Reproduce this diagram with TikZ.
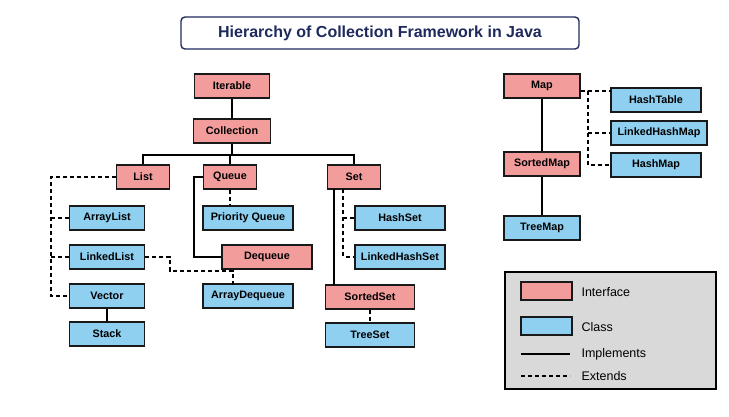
\documentclass[tikz,border=0pt]{standalone}
\usepackage{fontspec}
\setmainfont{Liberation Sans}
\usetikzlibrary{positioning}
\definecolor{ifacered}{HTML}{F29C9C}
\definecolor{classblue}{HTML}{8FCFF0}
\definecolor{titleblue}{HTML}{1F2A5C}

\begin{document}
\begin{tikzpicture}[
		x=1pt, y=-1pt,
		every node/.style={font=\bfseries\fontsize{10.8}{12}\selectfont},
		iface/.style={rectangle, draw=black!90, line width=1.3pt, fill=ifacered, minimum height=24pt, inner sep=1pt},
		cls/.style={rectangle, draw=black!90, line width=1.3pt, fill=classblue, minimum height=24pt, inner sep=1pt},
		impl/.style={line width=1.2pt},
		ext/.style={line width=1.2pt, dash pattern=on 4pt off 3pt}
	]
	\useasboundingbox (0,0) rectangle (729,417);

	% Title
	\node[draw=titleblue, line width=1.4pt, rounded corners=4pt, text=titleblue, minimum width=398pt, minimum height=32pt,
		font=\bfseries\fontsize{16}{18}\selectfont] (title) at (380,33) {Hierarchy of Collection Framework in Java};

	% Collection side
	\node[iface, minimum width=75pt] (iterable) at (232,86) {Iterable};
	\node[iface, minimum width=77pt] (collection) at (232,131) {Collection};
	\node[iface, minimum width=53pt] (list) at (143,177) {List};
	\node[iface, minimum width=53pt] (queue) at (230,177) {Queue};
	\node[iface, minimum width=53pt] (set) at (354,177) {Set};
	\node[cls, minimum width=75pt] (arraylist) at (107,218) {ArrayList};
	\node[cls, minimum width=75pt] (linkedlist) at (107,257) {LinkedList};
	\node[cls, minimum width=75pt] (vector) at (107,296) {Vector};
	\node[cls, minimum width=75pt] (stack) at (107,334) {Stack};
	\node[cls, minimum width=90pt] (pqueue) at (248,218) {Priority Queue};
	\node[iface, minimum width=90pt] (dequeue) at (267,257) {Dequeue};
	\node[cls, minimum width=90pt] (arraydequeue) at (248,296) {ArrayDequeue};
	\node[cls, minimum width=90pt] (hashset) at (400,218) {HashSet};
	\node[cls, minimum width=90pt] (linkedhashset) at (400,257) {LinkedHashSet};
	\node[iface, minimum width=89pt] (sortedset) at (370,297) {SortedSet};
	\node[cls, minimum width=89pt] (treeset) at (370,335) {TreeSet};

	\coordinate (bus) at (232,155);
	\coordinate (listrail) at (51,218);
	\coordinate (listmid) at (51,257);
	\coordinate (queuerail) at (194,257);
	\coordinate (llbend) at (170,271);
	\coordinate (adqtop) at (233,284.5);
	\coordinate (settop) at (334,189.5);
	\coordinate (sstop) at (334,284.5);
	\coordinate (setrail) at (343,189.5);
	\coordinate (hsrail) at (343,218);

	\draw[impl] (iterable) -- (collection);
	\draw[impl] (collection.south) -- (bus);
	\draw[impl] (list.north) |- (bus) -| (set.north);
	\draw[impl] (queue.north) -- (queue.north |- bus);
	\draw[ext] (list.west) -| (listmid) |- (vector.west);
	\draw[ext] (listrail) -- (arraylist.west);
	\draw[ext] (listmid) -- (linkedlist.west);
	\draw[impl] (vector) -- (stack);
	\draw[ext] (queue) -- (queue |- pqueue.north);
	\draw[impl] (queue.west) -| (queuerail) -- (dequeue.west);
	\draw[ext] (linkedlist.east) -| (llbend) -| (adqtop);
	\draw[impl] (settop) -- (sstop);
	\draw[ext] (setrail) |- (linkedhashset.west);
	\draw[ext] (hsrail) -- (hashset.west);
	\draw[ext] (sortedset) -- (treeset);

	% Map side
	\node[iface, minimum width=76pt] (map) at (542,86) {Map};
	\node[iface, minimum width=76pt] (sortedmap) at (542,164) {SortedMap};
	\node[cls, minimum width=76pt] (treemap) at (542,228) {TreeMap};
	\node[cls, minimum width=90pt] (hashtable) at (656,100) {HashTable};
	\node[cls, minimum width=96pt] (linkedhashmap) at (659,133) {LinkedHashMap};
	\node[cls, minimum width=90pt] (hashmap) at (656,165) {HashMap};
	\coordinate (maprail) at (588,91);
	\coordinate (lhmrail) at (588,133);
	\coordinate (htleft) at (611,91);
	\draw[impl] (map) -- (sortedmap);
	\draw[impl] (sortedmap) -- (treemap);
	\draw[ext] (map.east |- maprail) -- (maprail) |- (hashmap.west);
	\draw[ext] (maprail) -- (htleft);
	\draw[ext] (lhmrail) -- (linkedhashmap.west);

	% Legend
	\node[draw=black, line width=1.3pt, fill=black!15, minimum width=211pt, minimum height=117pt] (legend) at (610.5,330.5) {};
	\node[iface, minimum width=51pt, minimum height=18pt] (keyiface) at (546.5,291) {};
	\node[cls, minimum width=51pt, minimum height=18pt] (keycls) at (546.5,326) {};
	\coordinate (implA) at (521,354);
	\coordinate (implB) at (570,354);
	\coordinate (extA) at (521,376);
	\coordinate (extB) at (570,376);
	\draw[impl] (implA) -- (implB);
	\draw[ext] (extA) -- (extB);
	\foreach \y/\txt in {292/Interface,327/Class,354/Implements,376/Extends}
		\node[right, font=\fontsize{12.5}{14}\selectfont] at (578,\y) {\txt};
\end{tikzpicture}
\end{document}
